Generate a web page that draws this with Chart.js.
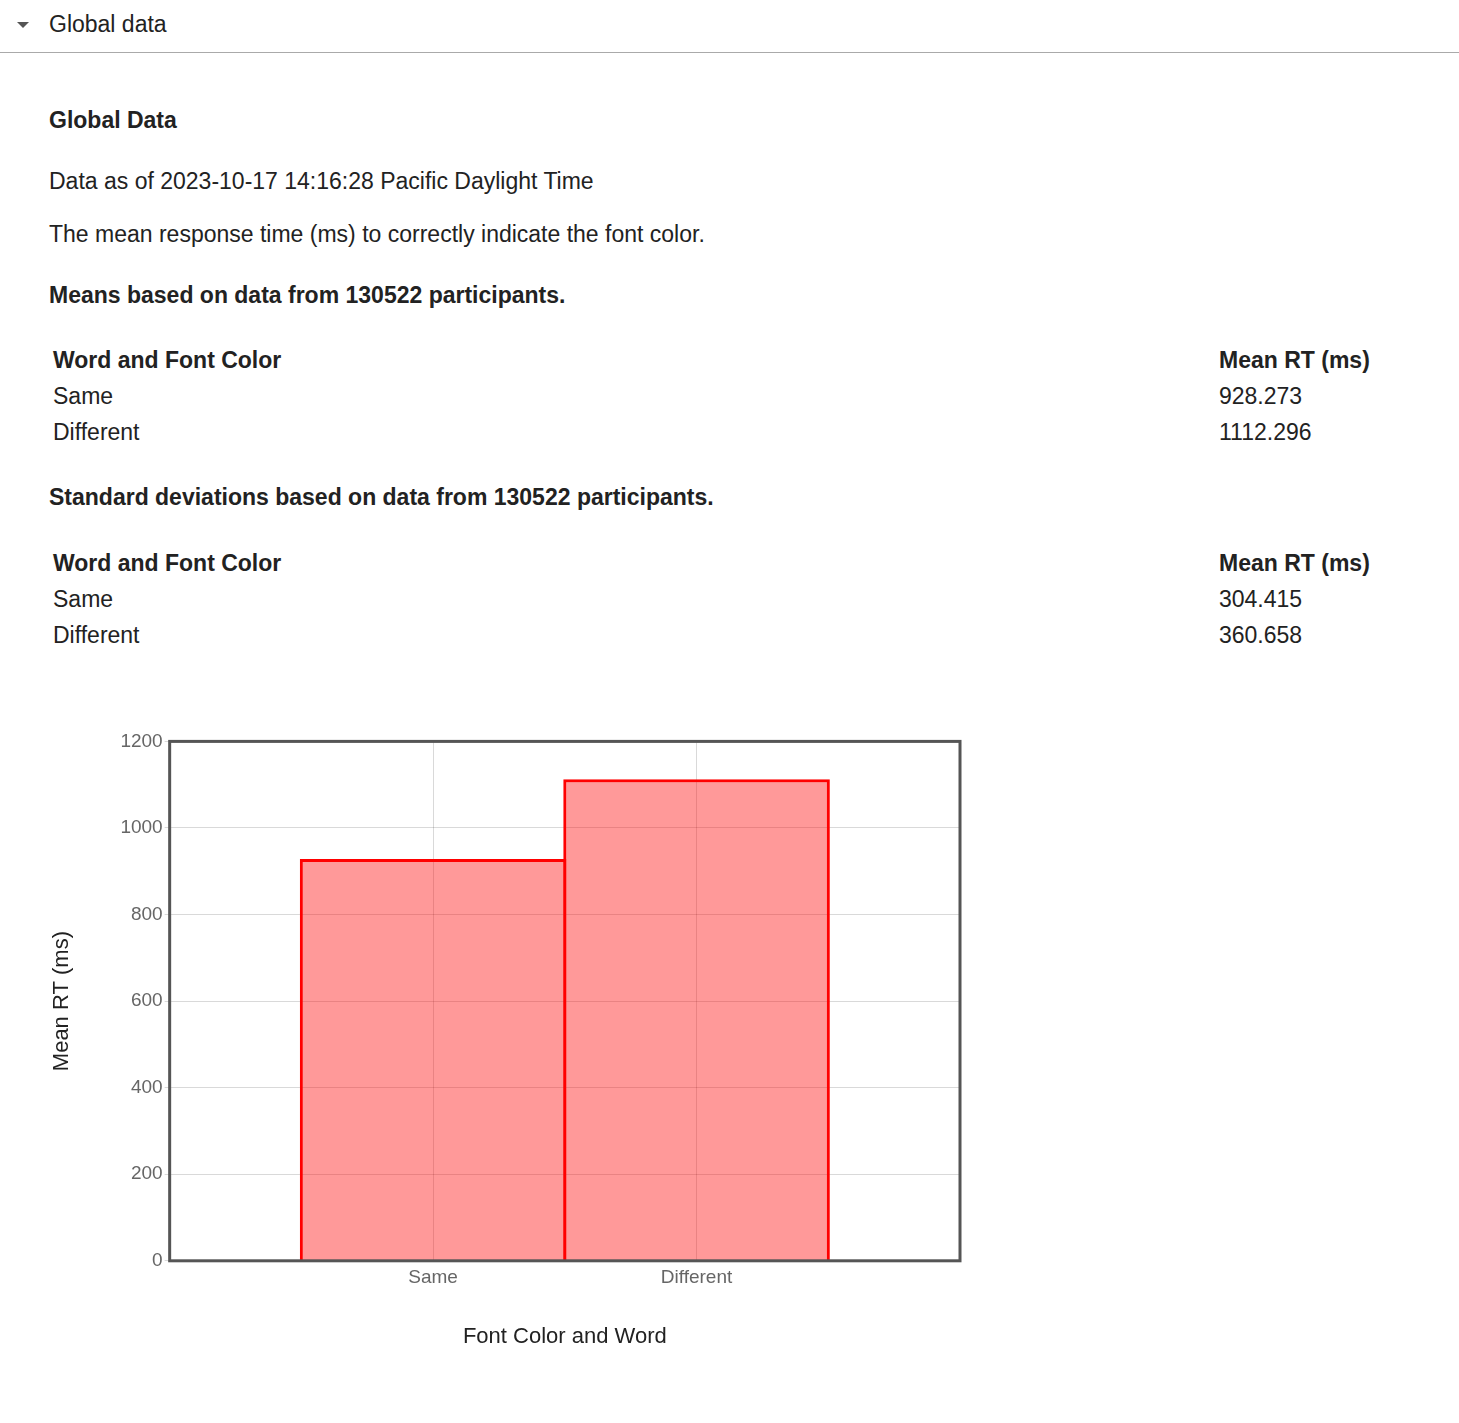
<!DOCTYPE html>
<html>
<head>
<meta charset="utf-8">
<script src="https://cdn.jsdelivr.net/npm/chart.js@4"></script>
<style>
  body { margin: 0; font-family: "Liberation Sans", Arial, sans-serif; color: #222; background: #fff; }
  .summary { height: 52px; border-bottom: 1px solid #aaa; position: relative; }
  .summary .arrow { position: absolute; left: 17px; top: 22px; width: 0; height: 0;
    border-left: 6px solid transparent; border-right: 6px solid transparent; border-top: 6px solid #555; }
  .summary span { position: absolute; left: 49px; top: 11px; font-size: 23px; }
  .content { padding-left: 49px; }
  h3 { font-size: 23px; margin: 0; position: absolute; top: 107px; }
  p { margin: 0; font-size: 23px; position: absolute; }
  table { position: absolute; left: 49px; width: 1340px; border-collapse: collapse; font-size: 23px; }
  td, th { padding: 0 4px; height: 36px; text-align: left; }
  th { font-weight: bold; }
  #chartWrap { position: absolute; left: 45px; top: 728px; width: 930px; height: 636px; }
</style>
</head>
<body>
<div class="summary"><div class="arrow"></div><span>Global data</span></div>
<div class="content">
  <h3>Global Data</h3>
  <p style="top:168px">Data as of 2023-10-17 14:16:28 Pacific Daylight Time</p>
  <p style="top:221px">The mean response time (ms) to correctly indicate the font color.</p>
  <p style="top:282px;font-weight:bold">Means based on data from 130522 participants.</p>
  <table id="meanTable" style="top:342px"></table>
  <p style="top:484px;font-weight:bold">Standard deviations based on data from 130522 participants.</p>
  <table id="sdTable" style="top:545px"></table>
</div>
<div id="chartWrap"><canvas id="chartRT"></canvas></div>
<script>
const categories = ["Same", "Different"];
const meanRT = [928.273, 1112.296];
const sdRT = [304.415, 360.658];
const yTicks = [0, 200, 400, 600, 800, 1000, 1200];

const fillTable = (tableElement, values) => {
  let html = "<tr><th>Word and Font Color</th><th style=\"width:166px\">Mean RT (ms)</th></tr>";
  categories.forEach((cat, i) => {
    html += `<tr><td>${cat}</td><td>${values[i].toFixed(3)}</td></tr>`;
  });
  tableElement.innerHTML = html;
};
fillTable(document.querySelector("#meanTable"), meanRT);
fillTable(document.querySelector("#sdTable"), sdRT);

// empty slots on each side so the two bars sit in the middle of the frame
const labels = ["", ...categories, ""];
const values = [null, ...meanRT, null];

const frameBox = {
  id: "frameBox",
  afterDatasetsDraw: (chart) => {
    const { ctx, chartArea } = chart;
    ctx.save();
    ctx.strokeStyle = "#555";
    ctx.lineWidth = 3;
    ctx.strokeRect(chartArea.left, chartArea.top, chartArea.right - chartArea.left, chartArea.bottom - chartArea.top);
    ctx.restore();
  },
};

new Chart(document.querySelector("#chartRT"), {
  type: "bar",
  data: {
    labels: labels,
    datasets: [
      {
        label: "Mean RT (ms)",
        data: values,
        backgroundColor: "rgba(255, 0, 0, 0.4)",
        borderColor: "rgb(255, 0, 0)",
        borderWidth: 3,
        barPercentage: 1.012,
        categoryPercentage: 1,
      },
    ],
  },
  options: {
    responsive: true,
    maintainAspectRatio: false,
    animation: false,
    layout: { padding: { top: 9, right: 15, bottom: 10 } },
    plugins: { legend: { display: false }, tooltip: { enabled: false } },
    scales: {
      x: {
        offset: false,
        grid: { color: "rgba(0,0,0,0.15)", drawTicks: false, offset: false },
        border: { display: false },
        ticks: { color: "#666", font: { size: 19, family: "Liberation Sans" }, padding: 6, maxRotation: 0, autoSkip: false },
        title: { display: true, text: "Font Color and Word", color: "#222", font: { size: 22, family: "Liberation Sans" }, padding: { top: 28 } },
      },
      y: {
        min: 0,
        max: 1200,
        afterBuildTicks: (axis) => { axis.ticks = yTicks.map((v) => ({ value: v })); },
        grid: { color: "rgba(0,0,0,0.15)", tickLength: 5 },
        border: { display: false },
        ticks: { color: "#666", font: { size: 19, family: "Liberation Sans" }, padding: 2, callback: (v) => String(v) },
        title: { display: true, text: "Mean RT (ms)", color: "#222", font: { size: 22, family: "Liberation Sans" }, padding: { bottom: 43 } },
      },
    },
  },
  plugins: [frameBox],
});
</script>
</body>
</html>
